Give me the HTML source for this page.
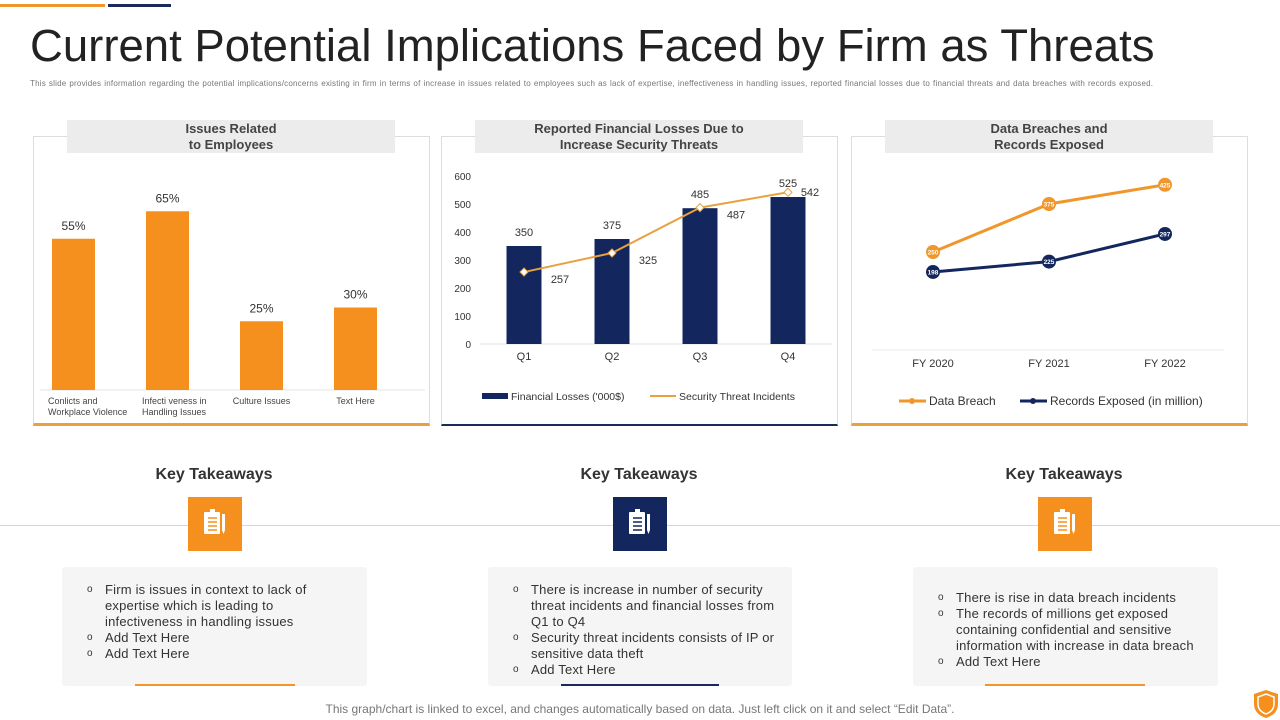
<!DOCTYPE html>
<html><head><meta charset="utf-8"><style>
body{margin:0;width:1280px;height:720px;position:relative;background:#fff;font-family:"Liberation Sans",sans-serif;overflow:hidden}
.abs{position:absolute}
.panel{position:absolute;top:136px;height:290px;border:1px solid #ddd;box-sizing:border-box}
.hdr{position:absolute;top:120px;height:33px;width:328px;background:#ececec;color:#444;font-weight:bold;font-size:13px;text-align:center;line-height:16px;padding-top:1px;box-sizing:border-box}
.kt{position:absolute;top:466px;width:300px;text-align:center;font-weight:bold;font-size:16px;color:#333}
.icon{position:absolute;top:497px;width:54px;height:54px}
.box{position:absolute;top:567px;height:119px;width:305px;background:#f5f5f5;border-radius:3px;font-size:13px;color:#333;line-height:16px;box-sizing:border-box;letter-spacing:0.2px}
.box ul{margin:0;padding:0 0 0 43px;list-style:none}
.box li{position:relative}
.box li:before{content:"o";position:absolute;left:-18px;font-size:10px}
svg text{font-family:"Liberation Sans",sans-serif}
</style></head><body>
<div class="abs" style="left:0;top:4px;width:105px;height:3px;background:#f0962a"></div>
<div class="abs" style="left:108px;top:4px;width:63px;height:3px;background:#1a2a5a"></div>
<div class="abs" style="left:30px;top:20px;font-size:45.5px;color:#222;white-space:nowrap">Current Potential Implications Faced by Firm as Threats</div>
<div class="abs" style="left:30px;top:79px;font-size:8px;letter-spacing:0.2px;word-spacing:0.6px;color:#777;white-space:nowrap">This slide provides information regarding the potential implications/concerns existing in firm in terms of increase in issues related to employees such as lack of expertise, ineffectiveness in handling issues, reported financial losses due to financial threats and data breaches with records exposed.</div>

<div class="panel" style="left:33px;width:397px;border-bottom:3px solid #e8a13e"></div>
<div class="panel" style="left:441px;width:397px;border-bottom:2px solid #1a2a5a"></div>
<div class="panel" style="left:851px;width:397px;border-bottom:3px solid #e8a13e"></div>
<div class="hdr" style="left:67px">Issues Related<br>to Employees</div>
<div class="hdr" style="left:475px">Reported Financial Losses Due to<br>Increase Security Threats</div>
<div class="hdr" style="left:885px">Data Breaches and<br>Records Exposed</div>

<svg id="chart" class="abs" style="left:0;top:0" width="1280" height="720"></svg>

<div class="abs" style="left:0;top:525px;width:1280px;height:1px;background:#d8d8d8"></div>

<div class="kt" style="left:64px">Key Takeaways</div>
<div class="kt" style="left:489px">Key Takeaways</div>
<div class="kt" style="left:914px">Key Takeaways</div>

<div class="icon" style="left:188px;background:#f5901e"><svg width="54" height="54"><g fill="#fff"><rect x="16" y="15" width="16" height="22" rx="1"/><rect x="22" y="12" width="5" height="4"/><rect x="34" y="17" width="3" height="16"/><polygon points="34,33 37,33 35.5,37"/></g><g stroke="#f5901e" stroke-width="1.5"><line x1="20" y1="21" x2="29" y2="21"/><line x1="20" y1="25" x2="29" y2="25"/><line x1="20" y1="29" x2="29" y2="29"/><line x1="20" y1="33" x2="29" y2="33"/></g></svg></div>
<div class="icon" style="left:613px;background:#13265e"><svg width="54" height="54"><g fill="#fff"><rect x="16" y="15" width="16" height="22" rx="1"/><rect x="22" y="12" width="5" height="4"/><rect x="34" y="17" width="3" height="16"/><polygon points="34,33 37,33 35.5,37"/></g><g stroke="#13265e" stroke-width="1.5"><line x1="20" y1="21" x2="29" y2="21"/><line x1="20" y1="25" x2="29" y2="25"/><line x1="20" y1="29" x2="29" y2="29"/><line x1="20" y1="33" x2="29" y2="33"/></g></svg></div>
<div class="icon" style="left:1038px;background:#f5901e"><svg width="54" height="54"><g fill="#fff"><rect x="16" y="15" width="16" height="22" rx="1"/><rect x="22" y="12" width="5" height="4"/><rect x="34" y="17" width="3" height="16"/><polygon points="34,33 37,33 35.5,37"/></g><g stroke="#f5901e" stroke-width="1.5"><line x1="20" y1="21" x2="29" y2="21"/><line x1="20" y1="25" x2="29" y2="25"/><line x1="20" y1="29" x2="29" y2="29"/><line x1="20" y1="33" x2="29" y2="33"/></g></svg></div>

<div class="box" style="left:62px;padding-top:15px"><ul style="width:210px"><li>Firm is issues in context to lack of expertise which is leading to infectiveness in handling issues</li><li>Add Text Here</li><li>Add Text Here</li></ul></div>
<div class="box" style="left:488px;padding-top:15px;width:304px"><ul style="width:245px"><li>There is increase in number of security threat incidents and financial losses from Q1 to Q4</li><li>Security threat incidents consists of IP or sensitive data theft</li><li>Add Text Here</li></ul></div>
<div class="box" style="left:913px;padding-top:23px"><ul style="width:238px"><li>There is rise in data breach incidents</li><li>The records of millions get exposed containing confidential and sensitive information with increase in data breach</li><li>Add Text Here</li></ul></div>
<div class="abs" style="left:135px;top:684px;width:160px;height:2px;background:#f0962a"></div>
<div class="abs" style="left:561px;top:684px;width:158px;height:2px;background:#1a2a5a"></div>
<div class="abs" style="left:985px;top:684px;width:160px;height:2px;background:#f0962a"></div>

<div class="abs" style="left:0;width:1280px;top:702px;text-align:center;font-size:12px;color:#777">This graph/chart is linked to excel,  and changes automatically based on data. Just left click on it and select “Edit Data”.</div>
<svg class="abs" style="left:1253px;top:689px" width="26" height="30"><path d="M13 1 L25 5 L25 15 Q25 25 13 29 Q1 25 1 15 L1 5 Z" fill="#f5901e"/><path d="M13 5 L21 8 L21 15 Q21 22 13 25 Q5 22 5 15 L5 8 Z" fill="none" stroke="#fff" stroke-width="1.5"/></svg>

<script>
const empCats=["Conlicts and|Workplace Violence","Infecti veness in|Handling Issues","Culture Issues","Text Here"];
const empVals=[55,65,25,30];
const quarters=["Q1","Q2","Q3","Q4"];
const lossVals=[350,375,485,525];
const threatVals=[257,325,487,542];
const yTicks=[0,100,200,300,400,500,600];
const years=["FY 2020","FY 2021","FY 2022"];
const breachVals=[250,375,425];
const recordVals=[198,225,297];

const NS="http://www.w3.org/2000/svg";
const svg=document.getElementById('chart');
function mk(tag,attrs,txt){const e=document.createElementNS(NS,tag);for(const k in attrs)e.setAttribute(k,attrs[k]);if(txt!==undefined)e.textContent=txt;svg.appendChild(e);return e;}

// Chart 1
const y1=v=>390-v*2.75, x1=i=>52+i*94;
let e=mk('line',{x1:40,x2:425,y1:390,y2:390,stroke:'#e6e6e6'});

empVals.forEach((v,i)=>{
 let b=mk('rect',{x:x1(i),y:y1(v),width:43,height:390-y1(v),fill:'#f5901e'});
 
 let t=mk('text',{x:x1(i)+21.5,y:y1(v)-9,'text-anchor':'middle','font-size':12,fill:'#333'},v+'%');
 
 const two=empCats[i].indexOf('|')>0;
 empCats[i].split('|').forEach((ln,j)=>{
  let c=mk('text',{x:two?x1(i)-4:x1(i)+21.5,y:404+j*11,'text-anchor':two?'start':'middle','font-size':9,fill:'#444'},ln);
  
 });
});

// Chart 2
const y2=v=>344-v*0.28, x2=i=>524+i*88;
yTicks.forEach(t=>{let tx=mk('text',{x:471,y:y2(t)+4,'text-anchor':'end','font-size':10,fill:'#333'},t);
 });
e=mk('line',{x1:480,x2:832,y1:344,y2:344,stroke:'#e6e6e6'});

lossVals.forEach((v,i)=>{
 let b=mk('rect',{x:x2(i)-17.5,y:y2(v),width:35,height:344-y2(v),fill:'#13265e'});
 
 let t=mk('text',{x:x2(i),y:y2(v)-10,'text-anchor':'middle','font-size':11,fill:'#333'},v);
 
 let q=mk('text',{x:x2(i),y:360,'text-anchor':'middle','font-size':11,fill:'#333'},quarters[i]);
 
});
e=mk('polyline',{points:threatVals.map((v,i)=>x2(i)+','+y2(v)).join(' '),fill:'none',stroke:'#e8a13e','stroke-width':2});

threatVals.forEach((v,i)=>{
 let x=x2(i),y=y2(v);
 let p=mk('polygon',{points:`${x},${y-4} ${x+4},${y} ${x},${y+4} ${x-4},${y}`,fill:'#fff',stroke:'#e8a13e'});
 
 let last=i===threatVals.length-1;
 let t=mk('text',{x:last?x+22:x+36,y:last?y+4:y+11,'text-anchor':'middle','font-size':11,fill:'#333'},v);
 
});
e=mk('rect',{x:482,y:393,width:26,height:6,fill:'#13265e'});
e=mk('text',{x:511,y:400,'font-size':10.5,fill:'#333'},"Financial Losses  ('000$)");
e=mk('line',{x1:650,x2:676,y1:396,y2:396,stroke:'#e8a13e','stroke-width':2});
e=mk('text',{x:679,y:400,'font-size':10.5,fill:'#333'},"Security Threat Incidents");

// Chart 3
const y3=v=>348-v*0.384, x3=i=>933+i*116;
e=mk('line',{x1:872,x2:1224,y1:350,y2:350,stroke:'#eee'});
years.forEach((yr,i)=>{let t=mk('text',{x:x3(i),y:367,'text-anchor':'middle','font-size':11,fill:'#333'},yr);
 });
[[breachVals,'#f0962a','breach'],[recordVals,'#13265e','records']].forEach(([vals,col,nm])=>{
 let l=mk('polyline',{points:vals.map((v,i)=>x3(i)+','+y3(v)).join(' '),fill:'none',stroke:col,'stroke-width':3});
 
 vals.forEach((v,i)=>{
  let c=mk('circle',{cx:x3(i),cy:y3(v),r:7,fill:col});
  
  let t=mk('text',{x:x3(i),y:y3(v)+2.5,'text-anchor':'middle','font-size':6.5,'font-weight':'bold',fill:'#fff'},v);
  
 });
});
e=mk('line',{x1:899,x2:926,y1:401,y2:401,stroke:'#f0962a','stroke-width':3});
e=mk('circle',{cx:912,cy:401,r:3,fill:'#f0962a'});
e=mk('text',{x:929,y:405,'font-size':12,fill:'#333'},"Data Breach");
e=mk('line',{x1:1020,x2:1047,y1:401,y2:401,stroke:'#13265e','stroke-width':3});
e=mk('circle',{cx:1033,cy:401,r:3,fill:'#13265e'});
e=mk('text',{x:1050,y:405,'font-size':12,fill:'#333'},"Records Exposed (in million)");
</script>
</body></html>
